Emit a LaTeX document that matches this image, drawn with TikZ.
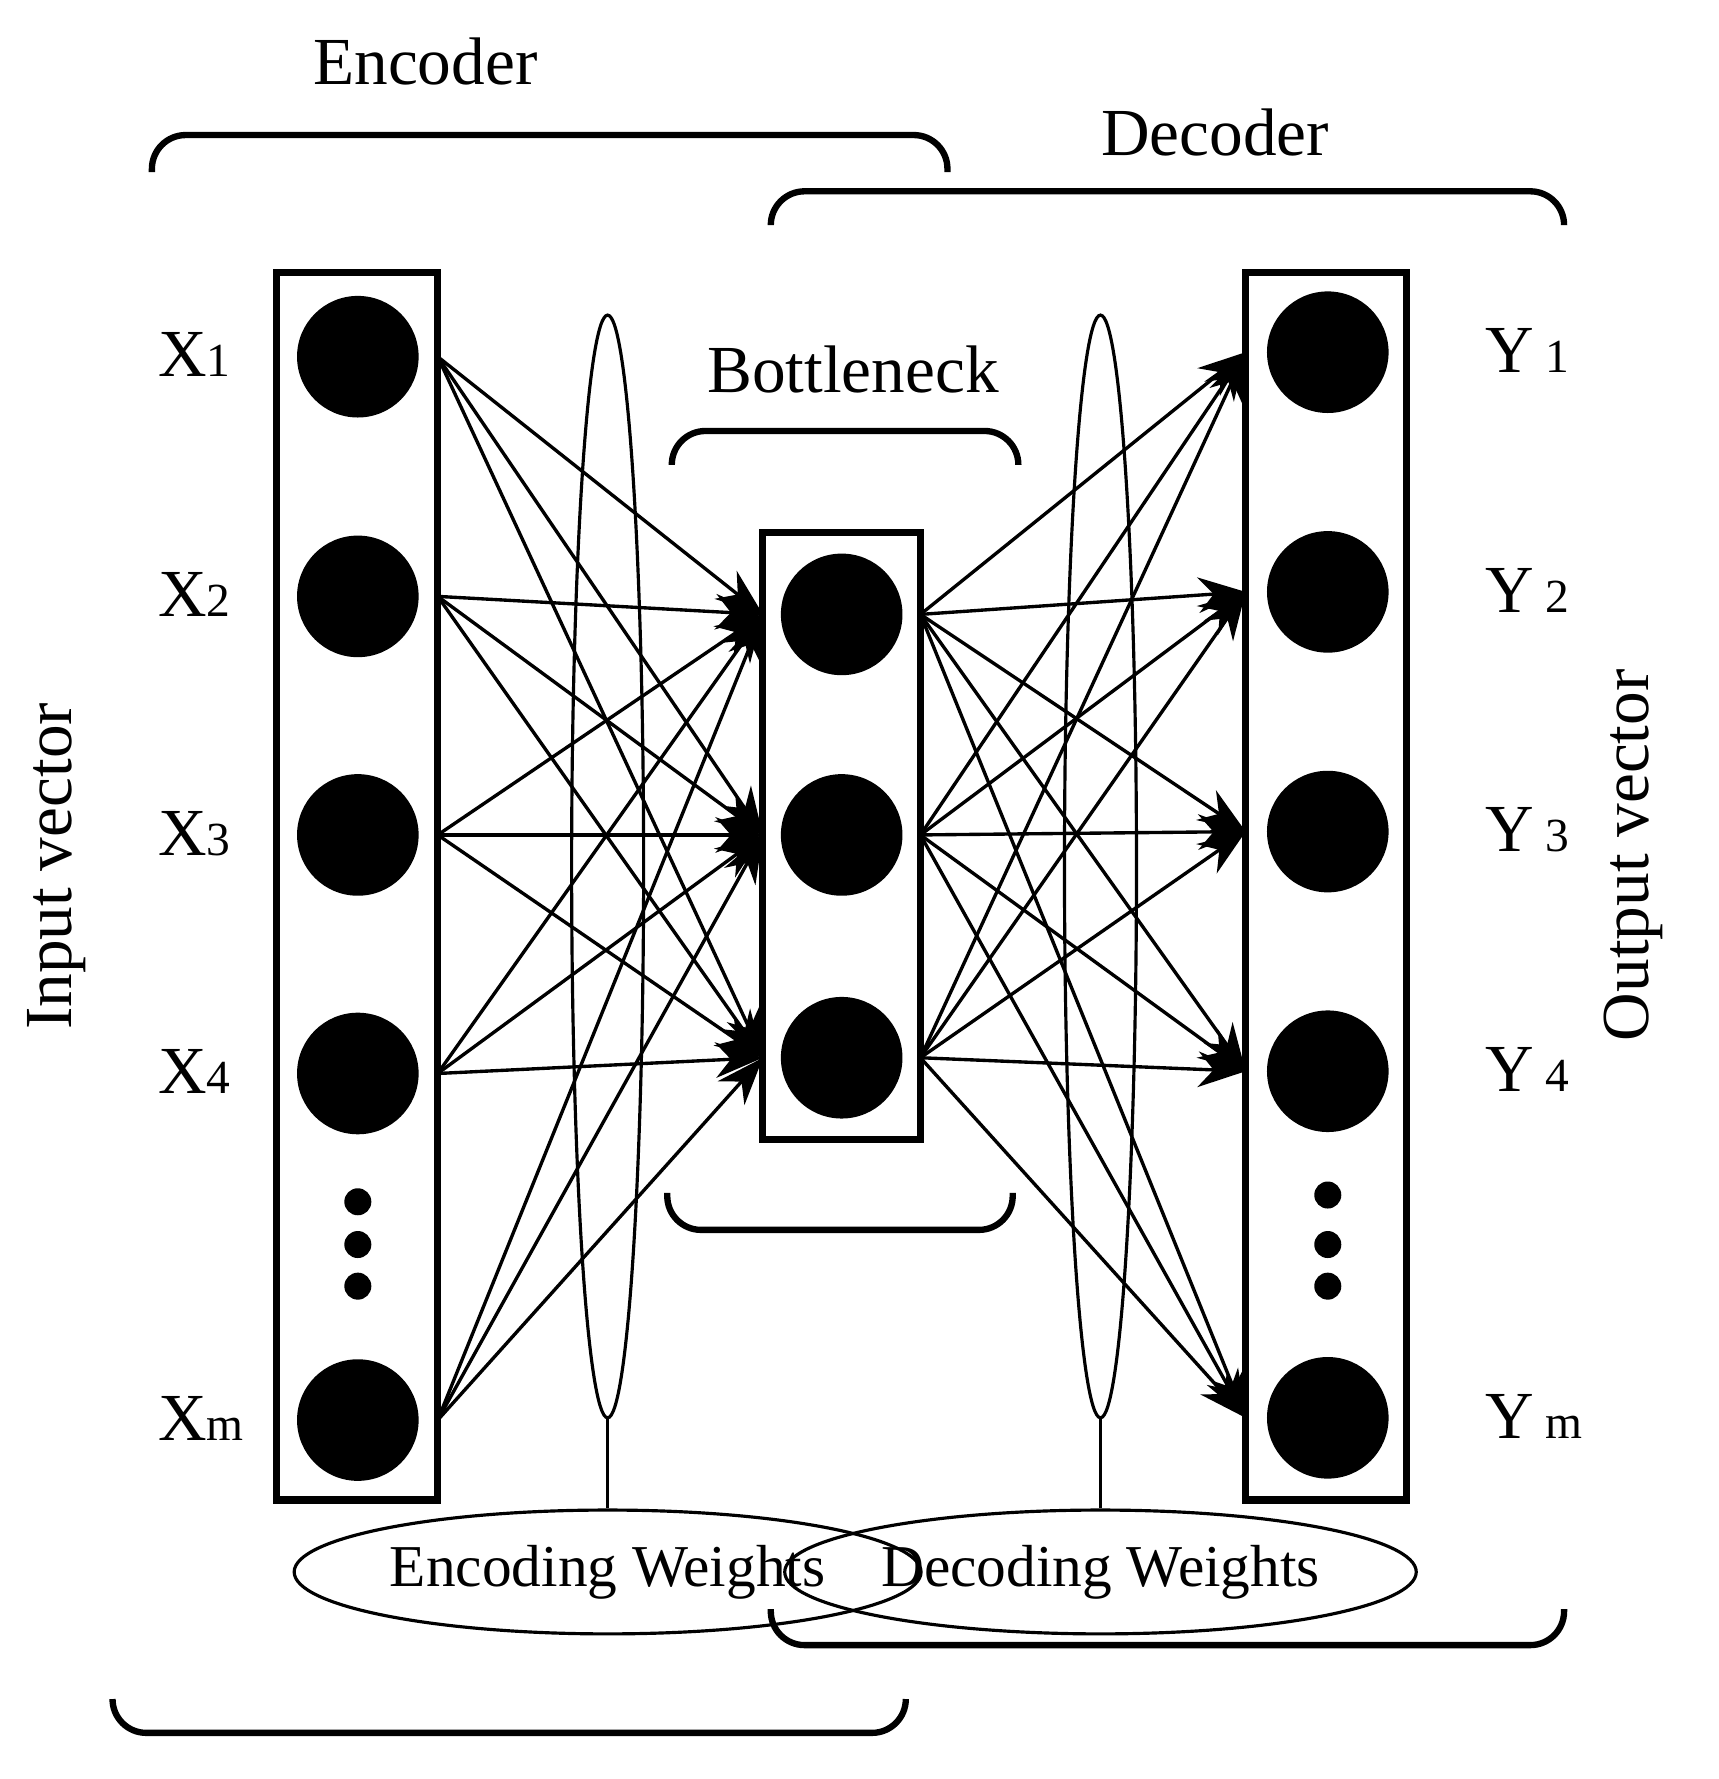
\documentclass[tikz,border=0pt]{standalone}
\usepackage{fontspec}
\setmainfont{Liberation Serif}
\usetikzlibrary{arrows.meta,shapes.geometric}
\begin{document}
\begin{tikzpicture}[x=0.01cm,y=-0.01cm,
  box/.style={line width=1.8pt},
  neuron/.style={circle,fill=black,minimum size=1.08cm,inner sep=0pt},
  dot/.style={circle,fill=black,minimum size=0.24cm,inner sep=0pt},
  conn/.style={line width=0.85pt,-{Stealth[length=12pt,width=9pt]}},
  brace/.style={line width=1.6pt,rounded corners=0.3cm},
  big/.style={font=\fontsize{17}{20}\selectfont},
  lab/.style={font=\fontsize{17}{20}\selectfont,anchor=base west},
  wlab/.style={draw,ellipse,line width=0.8pt,font=\fontsize{15}{18}\selectfont,inner sep=1pt,minimum width=4.14cm,minimum height=1.1cm}]
\useasboundingbox (0,0) rectangle (1527,1581);
% braces
\draw[brace] (135,153) -- (135,120) -- (842,120) -- (842,153);
\draw[brace] (685,200) -- (685,170) -- (1390,170) -- (1390,200);
\draw[brace] (597,413) -- (597,383) -- (905,383) -- (905,413);
\draw[brace] (593,1060) -- (593,1093) -- (900,1093) -- (900,1060);
\draw[brace] (685,1430) -- (685,1462) -- (1390,1462) -- (1390,1430);
\draw[brace] (100,1510) -- (100,1540) -- (805,1540) -- (805,1510);
\node[big] (enc) at (378,55) {Encoder};
\node[big] (dec) at (1080,118) {Decoder};
\node[big] (bot) at (758,328) {Bottleneck};
\node[big,rotate=90] (inv) at (50,770) {Input vector};
\node[big,rotate=90] (outv) at (1452,760) {Output vector};
% boxes
\draw[box] (246,242) rectangle (389,1333);
\draw[box] (678,473) rectangle (818,1013);
\draw[box] (1107,242) rectangle (1250,1333);
% input nodes
\foreach \i/\y/\s in {1/317/1,2/530/2,3/742/3,4/954/4,5/1262/m}{
  \node[neuron] (x\i) at (318,\y) {};
  \coordinate (xo\i) at (389,\y);
  \node[lab] (xl\i) at (128,\y+18) {X{\fontsize{12}{14}\selectfont\s}};
}
\foreach \i/\y/\s in {1/313/1,2/526/2,3/739/3,4/952/4,5/1260/m}{
  \node[neuron] (y\i) at (1180,\y) {};
  \coordinate (yi\i) at (1107,\y);
  \node[lab] (yl\i) at (1308,\y+18) {Y\,{\fontsize{12}{14}\selectfont\s}};
}
\foreach \i/\y in {1/546,2/742,3/940}{
  \node[neuron,minimum width=1.08cm,minimum height=1.04cm] (h\i) at (748,\y) {};
  \coordinate (hi\i) at (678,\y);
  \coordinate (ho\i) at (818,\y);
}
\foreach \y [count=\k] in {1068,1106,1143}{\node[dot] (ld\k) at (318,\y) {};}
\foreach \y [count=\k] in {1062,1106,1143}{\node[dot] (rd\k) at (1180,\y) {};}
% connections
\foreach \i in {1,...,5}{\foreach \j in {1,2,3}{\draw[conn] (xo\i) -- (hi\j);}}
\foreach \j in {1,2,3}{\foreach \i in {1,...,5}{\draw[conn] (ho\j) -- (yi\i);}}
% weight ellipses
\draw[line width=0.8pt] (540,770) ellipse [x radius=32, y radius=490];
\draw[line width=0.8pt] (978,770) ellipse [x radius=32, y radius=490];
\coordinate (ea) at (540,1260);
\coordinate (da) at (978,1260);
\node[wlab] (ew) at (540,1397) {Encoding Weights};
\node[wlab,minimum width=4.2cm] (dw) at (978,1397) {Decoding Weights};
\draw[line width=0.8pt] (ea) -- (ew);
\draw[line width=0.8pt] (da) -- (dw);
\end{tikzpicture}
\end{document}
